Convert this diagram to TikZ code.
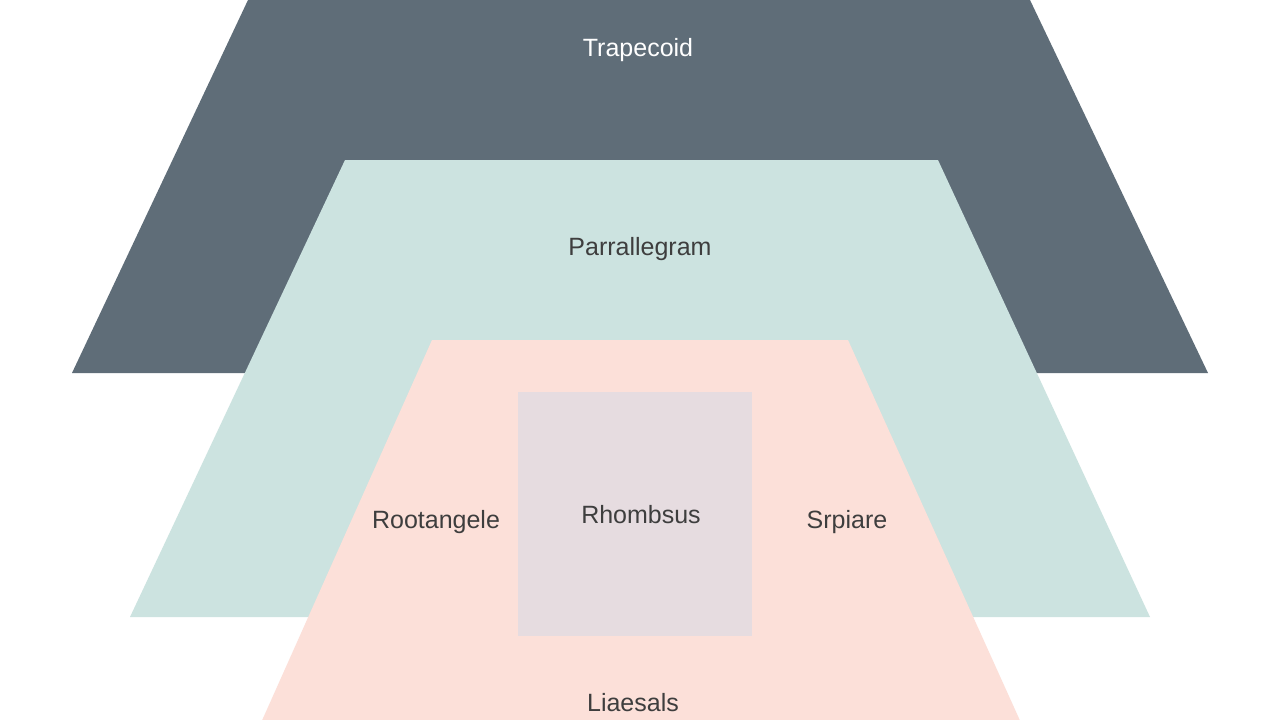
\documentclass[tikz,border=0pt]{standalone}
\usepackage{fontspec}
\setmainfont{Liberation Sans}
\usepackage{xcolor}
\usetikzlibrary{positioning}
\definecolor{slate}{HTML}{5F6D78}
\definecolor{mint}{HTML}{CCE3E0}
\definecolor{blush}{HTML}{FCE0D9}
\definecolor{mauve}{HTML}{E6DCE0}
\definecolor{ink}{HTML}{3E3E3E}
\tikzset{
x=1pt, y=-1pt, % one unit is one pixel of the picture, y going down
label/.style={font=\fontsize{25}{30}\selectfont, text=ink, inner sep=0pt}, % sets the look of every name
}

\begin{document}
\begin{tikzpicture}
    \useasboundingbox (0,0) rectangle (1280,720);
    \clip (0,0) rectangle (1280,720);
    \fill[white] (0,0) rectangle (1280,720);

    \fill[slate] (248,0) -- (1030,0) -- (1208,373) -- (72,373) -- cycle;
    \fill[mint]  (345,160) -- (938,160) -- (1150,617) -- (130,617) -- cycle;
    \fill[blush] (432,340) -- (848,340) -- (1022,725) -- (260,725) -- cycle;
    \fill[mauve] (518,392) rectangle (752,636);

    \node[label, text=white] (trap) at (638,50) {Trapecoid};
    \node[label] (para) at (640,249) {Parrallegram};
    \node[label] (rect) at (436,522) {Rootangele};
    \node[label] (rhom) at (641,515) {Rhombsus};
    \node[label] (squa) at (847,522) {Srpiare};
    \node[label] (kite) at (633,703) {Liaesals};

\end{tikzpicture}
\end{document}
